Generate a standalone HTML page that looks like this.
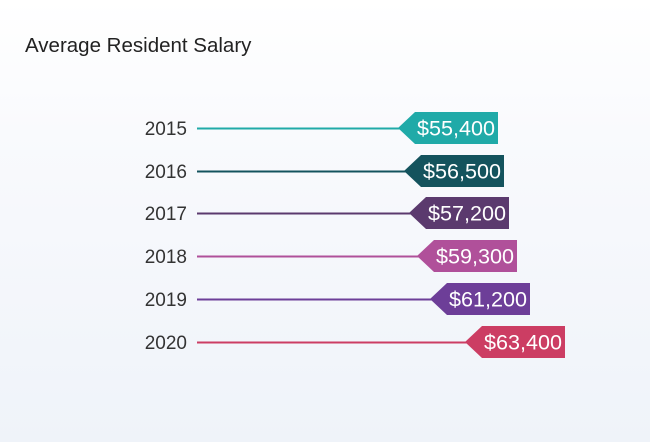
<!DOCTYPE html><html><head><style>
body{margin:0;width:650px;height:442px;overflow:hidden;background:linear-gradient(#ffffff 0%,#f9fafd 30%,#eff3f9 100%);font-family:"Liberation Sans",sans-serif;}
</style></head><body>
<svg width="650" height="442" xmlns="http://www.w3.org/2000/svg">
<text x="25" y="52" font-size="20.5" fill="#222" font-family="Liberation Sans">Average Resident Salary</text>
<g font-family="Liberation Sans" font-size="19" fill="#333">
<text x="187" y="135" text-anchor="end">2015</text>
<text x="187" y="178" text-anchor="end">2016</text>
<text x="187" y="220" text-anchor="end">2017</text>
<text x="187" y="263" text-anchor="end">2018</text>
<text x="187" y="306" text-anchor="end">2019</text>
<text x="187" y="349" text-anchor="end">2020</text>
</g>
<g stroke-width="2">
<line x1="197" y1="128.5" x2="400" y2="128.5" stroke="#20aaa8"/>
<line x1="197" y1="171.5" x2="406" y2="171.5" stroke="#14535d"/>
<line x1="197" y1="213.5" x2="411" y2="213.5" stroke="#5b3a6e"/>
<line x1="197" y1="256.5" x2="419" y2="256.5" stroke="#b0509a"/>
<line x1="197" y1="299.5" x2="432" y2="299.5" stroke="#6d3e98"/>
<line x1="197" y1="342.5" x2="467" y2="342.5" stroke="#cc3d63"/>
</g>
<polygon points="398,128 415,112 498,112 498,144 415,144" fill="#20aaa8"/>
<polygon points="404,171 421,155 504,155 504,187 421,187" fill="#14535d"/>
<polygon points="409,213 426,197 509,197 509,229 426,229" fill="#5b3a6e"/>
<polygon points="417,256 434,240 517,240 517,272 434,272" fill="#b0509a"/>
<polygon points="430,299 447,283 530,283 530,315 447,315" fill="#6d3e98"/>
<polygon points="465,342 482,326 565,326 565,358 482,358" fill="#cc3d63"/>
<g font-family="Liberation Sans" font-size="21" fill="#fff" text-anchor="end" textLength="78">
<text x="495" y="135.5" textLength="78" lengthAdjust="spacingAndGlyphs">$55,400</text>
<text x="501" y="178.5" textLength="78" lengthAdjust="spacingAndGlyphs">$56,500</text>
<text x="506" y="220.5" textLength="78" lengthAdjust="spacingAndGlyphs">$57,200</text>
<text x="514" y="263.5" textLength="78" lengthAdjust="spacingAndGlyphs">$59,300</text>
<text x="527" y="306.5" textLength="78" lengthAdjust="spacingAndGlyphs">$61,200</text>
<text x="562" y="349.5" textLength="78" lengthAdjust="spacingAndGlyphs">$63,400</text>
</g>
</svg>
</body></html>
